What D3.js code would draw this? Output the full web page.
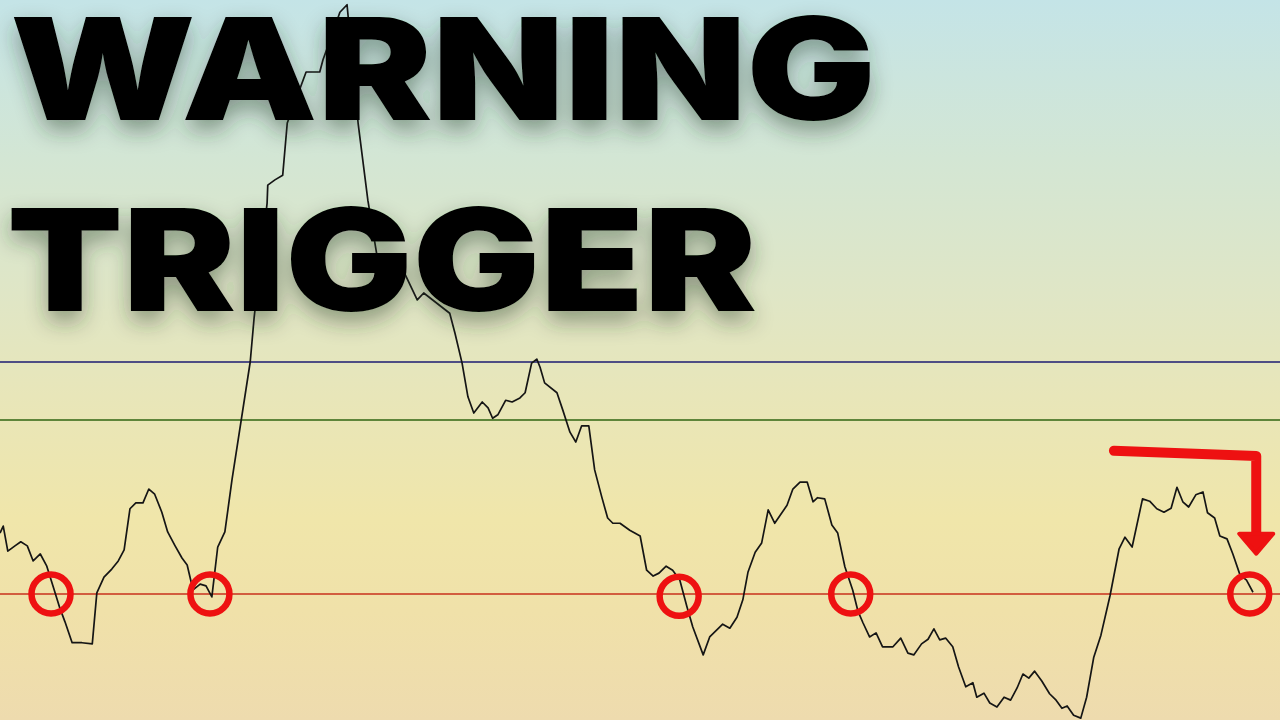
<!DOCTYPE html>
<html><head><meta charset="utf-8">
<script src="https://cdn.jsdelivr.net/npm/d3@7/dist/d3.min.js"></script>
<style>html,body{margin:0;padding:0;overflow:hidden;}svg{display:block;}</style>
</head><body>
<svg id="chart" width="1280" height="720"></svg>
<script>
// ---- data ----
const days = [0,0.5,1.2,2.3,3.2,4.2,5.1,6.2,7.2,8.2,9.2,10.0,11.1,12.6,14.2,14.9,16.0,17.2,18.2,19.1,20.0,20.9,22.0,22.9,23.8,24.9,25.8,26.9,28.0,28.8,29.7,30.8,31.7,32.6,33.5,34.6,35.7,38.5,39.1,41.1,41.2,42.3,43.5,44.2,47.1,49.2,49.7,50.8,52.3,53.4,55.1,56.6,58.0,62.0,64.2,65.2,69.2,70.0,71.1,72.0,72.9,74.2,75.1,75.8,76.6,77.8,78.8,80.0,80.8,81.8,82.6,83.1,83.8,85.7,86.6,87.7,88.6,89.5,90.6,91.5,92.6,93.5,94.3,95.4,96.9,98.5,99.5,100.5,101.4,102.5,103.5,104.6,105.7,106.6,108.2,109.2,110.3,111.2,112.3,113.4,114.3,115.1,116.2,117.2,118.2,119.2,121.1,122.0,123.1,124.2,125.1,125.8,126.9,128.0,128.9,130.0,131.2,132.0,132.8,133.8,134.8,135.8,137.4,138.6,139.7,140.6,141.8,142.8,143.7,144.6,145.5,146.6,147.5,148.6,149.7,150.3,151.4,152.3,153.4,154.5,155.5,156.5,157.4,158.3,159.2,160.3,161.5,162.5,163.4,164.2,165.2,166.3,167.2,168.3,169.4,170.8,172.2,173.1,174.2,175.8,176.9,178.0,179.1,180.2,181.1,182.0,182.9,184.0,185.1,185.8,186.9,187.7,188.8,189.7,190.8,191.8,192.8];
const values = [30.5,31.7,27.4,28.3,29.0,28.3,25.7,26.9,24.8,21.2,17.6,15.2,11.6,11.6,11.4,20.2,22.9,24.3,25.7,27.6,34.7,35.7,35.7,38.1,37.2,34.1,30.7,28.4,26.2,25.0,20.7,21.7,21.4,19.5,28.1,30.7,39.7,60.0,67.6,87.4,90.5,91.4,92.2,101.2,110.0,110.0,112.1,115.5,120.3,121.6,101.2,87.9,78.4,75.9,70.7,71.9,68.4,65.0,59.8,54.0,51.2,53.1,52.1,50.3,50.9,53.4,53.1,53.8,54.7,59.8,60.5,59.1,56.4,54.7,51.7,47.9,46.2,49.0,49.0,41.4,36.7,33.1,32.2,32.2,31.0,30.0,24.1,23.1,23.6,24.8,24.1,22.4,17.8,14.3,9.5,12.6,13.8,14.8,14.1,16.0,19.0,23.8,27.2,28.8,34.5,32.2,35.3,38.1,39.3,39.3,35.9,36.6,36.4,31.9,30.5,24.7,20.7,17.1,15.0,12.6,13.3,10.9,10.9,12.4,9.8,9.5,11.4,12.2,14.0,12.1,12.4,10.9,7.4,4.0,4.7,2.2,2.9,1.2,0.5,2.2,1.7,3.8,6.2,5.5,6.7,5.0,2.8,1.7,0.3,0.7,-0.9,-1.4,2.2,9.1,12.9,19.7,27.8,29.8,28.1,36.4,36.0,34.7,34.1,34.8,38.4,35.9,35.0,37.1,37.6,34.0,33.1,30.0,29.5,26.9,23.3,22.4,20.3];
const levels = [60, 50, 20];            // upper (navy), middle (green), trigger (red)
const levelColors = ["#1b1b72", "#2f6410", "#c8301c"];
const triggerDays = [7.85, 32.3, 104.5, 130.9, 192.3];
const triggerValues = [20, 20, 19.6, 20, 20];
const titleLines = ["WARNING", "TRIGGER"];
const arrowPath = [[171.4, 44.7], [193.3, 43.8], [193.3, 30.4]];

// ---- scales ----
const W = 1280, H = 720;
const x = d3.scaleLinear().domain([0, 192.8]).range([0, 1253]);
const y = d3.scaleLinear().domain([20, 60]).range([594, 362]);

const svg = d3.select("#chart");
const defs = svg.append("defs");
const grad = defs.append("linearGradient").attr("id", "bg").attr("x1", 0).attr("y1", 0).attr("x2", 0).attr("y2", 1);
[["0", "#c4e4e7"], ["0.22", "#d3e6d4"], ["0.42", "#e0e6c5"], ["0.55", "#e8e6b9"], ["0.72", "#f0e6aa"], ["0.85", "#f0e1a9"], ["1", "#eedbae"]]
  .forEach(([o, c]) => grad.append("stop").attr("offset", o).attr("stop-color", c));
const shadow = defs.append("filter").attr("id", "shadow").attr("x", "-10%").attr("y", "-20%").attr("width", "120%").attr("height", "160%");
shadow.append("feDropShadow").attr("dx", 0).attr("dy", 10).attr("stdDeviation", 11)
  .attr("flood-color", "#203020").attr("flood-opacity", 0.45);

svg.append("rect").attr("width", W).attr("height", H).attr("fill", "url(#bg)");

// level lines
svg.append("g").selectAll("line").data(levels).join("line")
  .attr("x1", 0).attr("x2", W)
  .attr("y1", d => y(d)).attr("y2", d => y(d))
  .attr("stroke", (d, i) => levelColors[i]).attr("stroke-width", 1.6);

// indicator line
const pts = days.map((d, i) => [d, values[i]]);
svg.append("path").datum(pts)
  .attr("d", d3.line().x(d => x(d[0])).y(d => y(d[1])))
  .attr("fill", "none").attr("stroke", "#151515").attr("stroke-width", 1.7).attr("stroke-linejoin", "round");

// trigger circles
svg.append("g").selectAll("circle").data(triggerDays).join("circle")
  .attr("cx", d => x(d)).attr("cy", (d, i) => y(triggerValues[i])).attr("r", 19.5)
  .attr("fill", "none").attr("stroke", "#ee1111").attr("stroke-width", 6.5);

// arrow
svg.append("path").datum(arrowPath)
  .attr("d", d3.line().x(d => x(d[0])).y(d => y(d[1])))
  .attr("fill", "none").attr("stroke", "#ee1111").attr("stroke-width", 10)
  .attr("stroke-linecap", "round").attr("stroke-linejoin", "round");
const tip = arrowPath[arrowPath.length - 1];
const tx = x(tip[0]), ty = y(tip[1]);
svg.append("path")
  .attr("d", `M${tx - 17},${ty} L${tx + 17},${ty} L${tx},${ty + 20} Z`)
  .attr("fill", "#ee1111").attr("stroke", "#ee1111").attr("stroke-width", 4).attr("stroke-linejoin", "round");

// title
const title = svg.append("g").attr("filter", "url(#shadow)");
const tl = [{ t: titleLines[0], x: 10, y: 120, len: 866 }, { t: titleLines[1], x: 7, y: 311, len: 750 }];
title.selectAll("text").data(tl).join("text")
  .attr("x", d => d.x).attr("y", d => d.y)
  .attr("textLength", d => d.len).attr("lengthAdjust", "spacingAndGlyphs")
  .attr("font-family", "Inter, Lato, Roboto, 'DejaVu Sans', sans-serif")
  .attr("font-weight", 900).attr("font-size", 142).attr("fill", "#050505")
  .text(d => d.t);
</script>
</body></html>
